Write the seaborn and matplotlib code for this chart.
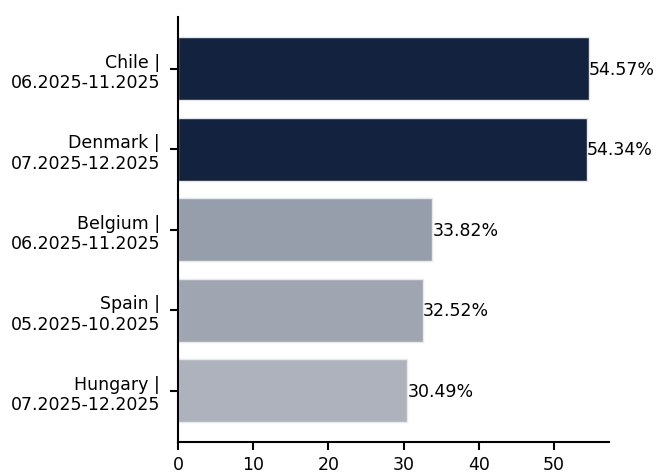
import matplotlib
matplotlib.use('Agg')
import matplotlib.pyplot as plt
import seaborn as sns

countries = ["Chile", "Denmark", "Belgium", "Spain", "Hungary"]
periods = ["06.2025-11.2025", "07.2025-12.2025", "06.2025-11.2025",
           "05.2025-10.2025", "07.2025-12.2025"]
values = [54.57, 54.34, 33.82, 32.52, 30.49]
colors = ["#13223f", "#13223f", "#979eab", "#a0a6b1", "#aeb2bc"]

labels = [f"{c} |\n{p}" for c, p in zip(countries, periods)]

sns.set_style("white")
plt.rcParams['font.family'] = ['DejaVu Sans']
plt.rcParams['text.color'] = 'black'
plt.rcParams['xtick.color'] = 'black'
plt.rcParams['ytick.color'] = 'black'

fig = plt.figure(figsize=(6.57, 4.77), dpi=100)
ax = fig.add_axes([0.271, 0.071, 0.656, 0.891])

sns.barplot(x=values, y=labels, hue=labels, palette=colors, legend=False,
            orient='h', width=0.78, saturation=1, edgecolor='#e6e8ec',
            linewidth=1, ax=ax)

for i, v in enumerate(values):
    ax.text(v, i, f"{v:.2f}%", va='center', ha='left', fontsize=12.5,
            color='black')

ax.set_ylim(4.64, -0.64)
ax.set_xlim(0, 57.3)
ax.set_xticks([0, 10, 20, 30, 40, 50])
ax.tick_params(axis='both', labelsize=12.5, length=6, width=1.5,
               colors='black', left=True, bottom=True)
ax.tick_params(axis='y', pad=7)
ax.tick_params(axis='x', pad=3.5)
ax.set_xlabel("")
ax.set_ylabel("")
sns.despine(ax=ax)
for s in ['left', 'bottom']:
    ax.spines[s].set_color('black')
    ax.spines[s].set_linewidth(1.5)

fig.savefig("out.png", dpi=100)
plt.close()
